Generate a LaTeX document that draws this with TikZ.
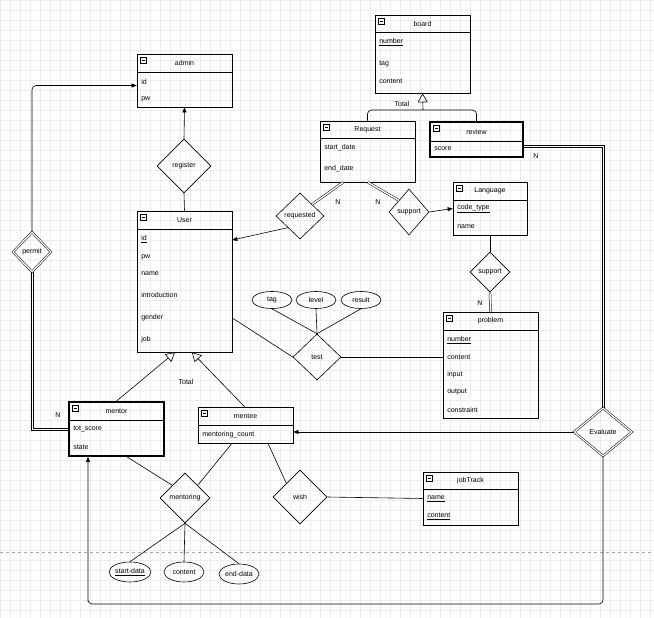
\documentclass[tikz,border=0pt]{standalone}
\usepackage{fontspec}
\setmainfont{Liberation Sans}
\usetikzlibrary{shapes.geometric,arrows.meta,calc}

\tikzset{
  ent/.style={rectangle, draw, line width=0.7pt, inner sep=0pt},
  rel/.style={diamond, draw, line width=0.6pt, inner sep=0pt},
  att/.style={ellipse, draw, line width=0.6pt, inner sep=0pt, minimum width=40, minimum height=17},
  tri/.style={-{Triangle[open, length=9pt, width=10pt]}},
  dbl/.style={double, double distance=1.4pt, line width=0.5pt},
  thin2/.style={line width=0.5pt},
  arr/.style={-{Triangle[length=5pt, width=4pt]}},
}

% entity box: name, x1, y1, x2, y2, header line, title
\newcommand\ent[8][]{%
  \node[ent, #1, minimum width={#5-#3}, minimum height={#6-#4}] (#2) at ({(#3+#5)/2},{(#4+#6)/2}) {};
  \draw[line width=0.6pt] (#3,#7) -- (#5,#7);
  \node at ({(#3+#5)/2},{(#4+#7)/2}) {#8};
  \draw[line width=0.4pt] (#3+3,#4+3) rectangle (#3+9,#4+9);
  \draw[line width=0.4pt] (#3+4.5,#4+6) -- (#3+7.5,#4+6);
}
\newcommand\attr[3]{\node[anchor=west, inner sep=0pt] at (#1+4,#2) {#3};}

\begin{document}
\begin{tikzpicture}[x=1pt, y=-1pt, font=\fontsize{7}{8}\selectfont, line width=0.6pt]
\useasboundingbox (0,0) rectangle (654,618);
\fill[white] (0,0) rectangle (654,618);
\draw[black!7, line width=0.3pt, step=10pt] (0,0) grid (654,618);
\draw[black!35, dashed, line width=0.4pt] (0,552) -- (654,552);

% Entities
\ent{board}{375}{15}{470}{93}{32}{board}
\attr{375}{42}{\underline{number}}
\attr{375}{64}{tag}
\attr{375}{81}{content}

\ent{admin}{137}{54}{232}{107}{72}{admin}
\attr{137}{82}{id}
\attr{137}{99}{pw}

\ent{request}{320}{121}{415}{182}{138}{Request}
\attr{320}{148}{start\_date}
\attr{320}{169}{end\_date}

\ent[line width=1.8pt]{review}{430}{122}{523}{157}{141}{review}
\attr{430}{149}{score}

\ent{language}{453}{182}{527}{235}{200}{Language}
\attr{453}{209}{\underline{code\_type}}
\attr{453}{227}{name}

\ent{user}{137}{211}{232}{352}{229}{User}
\attr{137}{239}{\underline{id}}
\attr{137}{257}{pw}
\attr{137}{274}{name}
\attr{137}{295}{introduction}
\attr{137}{318}{gender}
\attr{137}{340}{job}

\ent{problem}{443}{312}{538}{418}{330}{problem}
\attr{443}{340}{\underline{number}}
\attr{443}{357}{content}
\attr{443}{375}{input}
\attr{443}{392}{output}
\attr{443}{410}{constraint}

\ent[line width=1.8pt]{mentor}{69}{402}{164}{456}{420}{mentor}
\attr{69}{429}{tot\_score}
\attr{69}{447}{state}

\ent{mentee}{198}{407}{293}{443}{425}{mentee}
\attr{198}{435}{mentoring\_count}

\ent{jobtrack}{423}{472}{518}{525}{489}{jobTrack}
\attr{423}{499}{\underline{name}}
\attr{423}{516}{\underline{content}}

% Relationships
\node[rel, minimum width=54, minimum height=54] (register) at (184,166) {register};
\node[rel, minimum width=48, minimum height=46] (requested) at (300,216) {requested};
\node[rel, minimum width=40, minimum height=46] (support) at (409,212) {support};
\node[rel, minimum width=40, minimum height=40] (support2) at (490,272) {support};
\node[rel, double, double distance=1.2pt, line width=0.5pt, minimum width=38, minimum height=40] (permit) at (32,252) {permit};
\node[rel, minimum width=48, minimum height=46] (test) at (317,357) {test};
\node[rel, double, double distance=1.2pt, line width=0.5pt, minimum width=58, minimum height=48] (evaluate) at (603,432) {Evaluate};
\node[rel, minimum width=50, minimum height=50] (mentoring) at (185,498) {mentoring};
\node[rel, minimum width=54, minimum height=54] (wish) at (300,497) {wish};

% Attributes
\node[att] (tag) at (272,300) {tag};
\node[att] (level) at (316,300) {level};
\node[att] (result) at (361,300) {result};
\node[att, minimum height=20] (startdata) at (130,572) {\underline{start-data}};
\node[att, minimum height=20] (content) at (184,572) {content};
\node[att, minimum height=20] (enddata) at (239,574) {end-data};

% Labels
\node at (402,104) {Total};
\node at (186,382) {Total};
\node at (338,202) {N};
\node at (378,202) {N};
\node at (536,156) {N};
\node at (480,303) {N};
\node at (58,415) {N};

% Connectors
\coordinate (split) at (423,110);
\draw[rounded corners=4pt] (request.north) |- (split) -| (review.north);
\draw[tri] (split) -- (board.south);
\draw[tri] (mentor.north) -- ([xshift=-9.5pt]user.south);
\draw[tri] ([xshift=-1pt]mentee.north) -- ([xshift=7.5pt]user.south);

\draw[arr] (register.north) -- (admin.south);
\draw (register.south) -- (user.north);
\draw[arr, rounded corners=4pt] (permit.north) |- ([yshift=-5pt]admin.west);
\draw[thin2] ([xshift=-1.1pt]permit.south) |- ([yshift=-1.1pt]mentor.west);
\draw[thin2] ([xshift=1.1pt]permit.south) |- ([yshift=1.1pt]mentor.west);

\draw[dbl] ([xshift=-24.5pt]request.south) -- (requested.north east);
\draw[arr] (requested.south west) -- ([yshift=41.5pt]user.east);
\draw[dbl] ([xshift=0.5pt]request.south) -- (support.north west);
\draw[arr] (support.east) -- (language.west);
\draw (language.south) -- (support2.north);
\draw[dbl] (support2.south) -- (problem.north);

\draw (tag.south) -- (test.north);
\draw (level.south) -- (test.north);
\draw (result.south) -- (test.north);
\draw ([yshift=-36.5pt]user.east) -- (test.west);
\draw (test.east) -- (test.east -| problem.west);

\draw[thin2] ([yshift=-5.9pt]review.east) -| ([xshift=1.1pt]evaluate.north);
\draw[thin2] ([yshift=-8.1pt]review.east) -| ([xshift=-1.1pt]evaluate.north);
\draw[arr] (evaluate.west) -- (evaluate.west -| mentee.east);
\coordinate (bottom) at (88,604);
\draw[arr, rounded corners=4pt] (evaluate.south) |- (bottom) -| ([xshift=-28.5pt]mentor.south);

\draw ([xshift=10.5pt]mentor.south) -- (mentoring.north west);
\draw ([xshift=-13.5pt]mentee.south) -- (mentoring.north east);
\draw ([xshift=22.5pt]mentee.south) -- (wish.north west);
\draw (wish.east) -- (jobtrack.west);

\draw (mentoring.south) -- (startdata.north);
\draw (mentoring.south) -- (content.north);
\draw (mentoring.south) -- (enddata.north);
\end{tikzpicture}
\end{document}
